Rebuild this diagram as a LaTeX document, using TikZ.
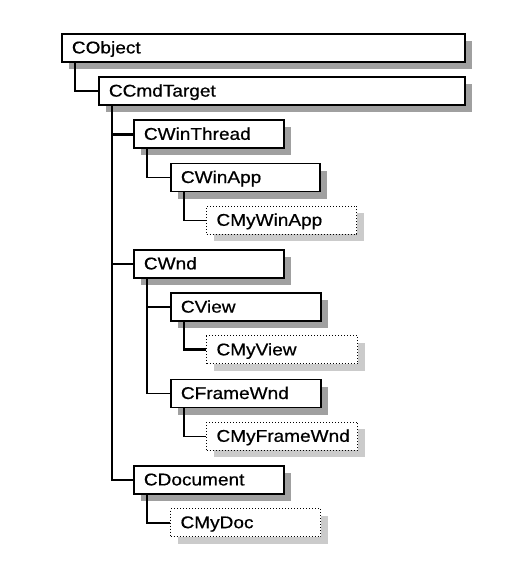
\documentclass[tikz,border=0pt]{standalone}
\usepackage{fontspec}
\setmainfont[FakeStretch=1.12,FakeBold=0.6]{Liberation Sans}
\usetikzlibrary{shadows}
\definecolor{shadowdark}{HTML}{A0A0A0}
\definecolor{shadowlight}{HTML}{CBCBCB}
\begin{document}
\begin{tikzpicture}[x=1pt,y=1pt,
  basebox/.style={fill=white, anchor=north west, minimum height=28pt,
    inner xsep=10pt, inner ysep=0pt, align=left,
    text height=12.5pt, text depth=1.5pt,
    font=\fontsize{17}{20}\selectfont},
  cls/.style={basebox, draw=black, line width=1.8pt,
    drop shadow={shadow xshift=7pt, shadow yshift=-7pt, fill=shadowdark, opacity=1}},
  mycls/.style={basebox, draw=black, line width=1pt, dash pattern=on 1pt off 2pt,
    drop shadow={shadow xshift=7pt, shadow yshift=-7pt, fill=shadowlight, opacity=1}},
  link/.style={draw=black, line width=1.6pt},
  thicklink/.style={draw=black, line width=3pt}
]
\fill[white] (0,0) rectangle (514,-575);
\useasboundingbox (0,0) rectangle (514,-575);

\node[cls, text width=383pt] (cobject) at (61,-33) {CObject};
\node[cls, text width=346pt] (ccmd) at (98,-76.2) {CCmdTarget};
\node[cls, text width=130pt] (cwinthread) at (133,-119.4) {CWinThread};
\node[cls, text width=129pt] (cwinapp) at (170,-162.6) {CWinApp};
\node[mycls, text width=130pt] (cmywinapp) at (206,-205.8) {CMyWinApp};
\node[cls, text width=130pt] (cwnd) at (133,-249) {CWnd};
\node[cls, text width=130pt] (cview) at (170,-292.2) {CView};
\node[mycls, text width=131pt] (cmyview) at (206,-335.4) {CMyView};
\node[cls, text width=130pt] (cframe) at (170,-378.6) {CFrameWnd};
\node[mycls, text width=131pt] (cmyframe) at (206,-421.8) {CMyFrameWnd};
\node[cls, text width=130pt] (cdoc) at (133,-465) {CDocument};
\node[mycls, text width=130pt] (cmydoc) at (170,-508.2) {CMyDoc};

\draw[link] ([xshift=14pt]cobject.south west) |- (ccmd.west);
\draw[link] ([xshift=14pt]ccmd.south west) |- (cdoc.west);
\draw[link] ([xshift=14pt]ccmd.south west) |- (cwnd.west);
\draw[thicklink] ([xshift=14pt]ccmd.south west |- cwinthread.west) -- (cwinthread.west);
\draw[link] ([xshift=14pt]cwinthread.south west) |- (cwinapp.west);
\draw[link] ([xshift=14pt]cwinapp.south west) |- (cmywinapp.west);
\draw[link] ([xshift=14pt]cwnd.south west) |- (cframe.west);
\draw[link] ([xshift=14pt]cwnd.south west) |- (cview.west);
\draw[link] ([xshift=14pt]cview.south west) |- (cmyview.west);
\draw[thicklink] ([xshift=14pt]cview.south west |- cmyview.west) -- (cmyview.west);
\draw[link] ([xshift=14pt]cframe.south west) |- (cmyframe.west);
\draw[link] ([xshift=14pt]cdoc.south west) |- (cmydoc.west);
\end{tikzpicture}
\end{document}
